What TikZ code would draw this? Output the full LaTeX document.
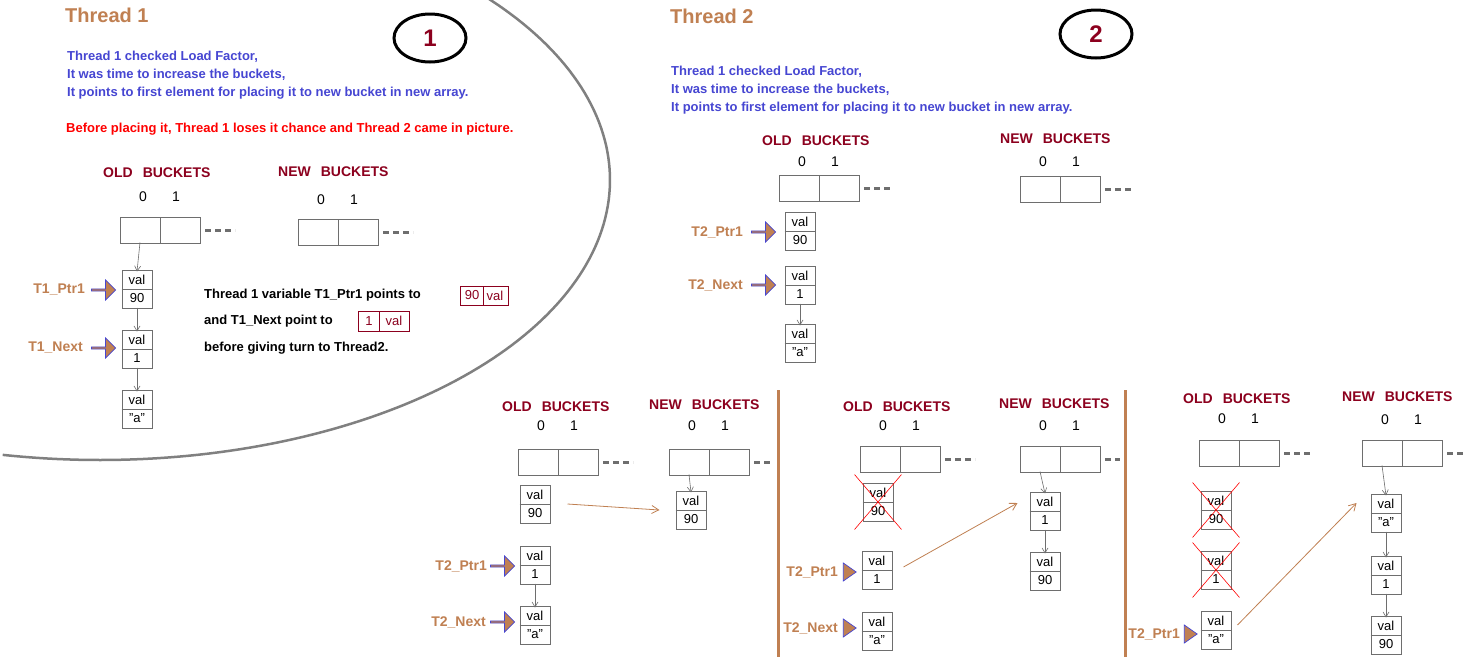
\documentclass[tikz,border=0pt]{standalone}
\usepackage{fontspec}
\setmainfont{Liberation Sans}
\usetikzlibrary{arrows.meta,shapes.arrows,shapes.geometric}
\definecolor{tan}{RGB}{192,128,82}
\definecolor{dred}{RGB}{140,0,30}
\definecolor{tblue}{RGB}{70,70,210}
\definecolor{bgray}{RGB}{110,110,110}
\tikzset{
 cell/.style={draw=bgray,line width=1pt,minimum width=30,minimum height=38,inner sep=0},
 bucket/.style={draw=bgray,line width=1pt,minimum width=40,minimum height=26,inner sep=0},
 link/.style={draw=bgray,line width=0.6pt,-{Straight Barb[length=5,width=6]}},
 move/.style={draw=tan,line width=0.8pt,-{Straight Barb[length=7,width=8]}},
 hdr/.style={text=dred,font=\fontsize{14}{16}\selectfont\bfseries,anchor=west,inner sep=0},
 idx/.style={font=\fontsize{14}{16}\selectfont,inner sep=0},
 lbl/.style={text=tan,font=\fontsize{14}{16}\selectfont\bfseries,anchor=east,inner sep=0},
 fat/.style={single arrow,draw=tblue,fill=tan,line width=0.7pt,minimum height=24,minimum width=20,single arrow head extend=3,inner sep=0},
 tri/.style={isosceles triangle,draw=tblue,fill=tan,line width=0.7pt,minimum height=10,minimum width=18,inner sep=0,isosceles triangle apex angle=70},
 blu/.style={text=tblue,font=\fontsize{13}{15}\selectfont\bfseries,anchor=west,inner sep=0},
 blk/.style={font=\fontsize{13}{15}\selectfont\bfseries,anchor=west,inner sep=0},
 ctext/.style={font=\fontsize{13}{15}\selectfont,inner sep=0},
 title/.style={text=tan,font=\fontsize{20}{22}\selectfont\bfseries,anchor=west,inner sep=0},
 dashbar/.style={draw=bgray,line width=3pt,dash pattern=on 6pt off 4pt},
 circ/.style={ellipse,draw,line width=3pt,minimum width=72,minimum height=48,text=dred,font=\fontsize{24}{26}\selectfont\bfseries},
 sep/.style={draw=tan,line width=3pt},
}
% \llcell{name}{x}{ytop}{text}
\newcommand\llcell[4]{%
 \node[cell] (#1) at (#2+15,#3+19) {};
 \draw[bgray,line width=1pt] (#1.west)--(#1.east);
 \node[ctext] at ([yshift=-9.5]#1.center) {#4};
 \node[ctext] at ([yshift=9.5]#1.center) {val};}
\newcommand\xcell[1]{%
 \draw[red,line width=0.6pt] ([shift={(-8,-8)}]#1.north west)--([shift={(8,8)}]#1.south east)
 ([shift={(8,-8)}]#1.north east)--([shift={(-8,8)}]#1.south west);}
% \bk{name}{x}{ytop}{header}{hx}{hy}{idxy}{dashend}
\newcommand\bk[8]{%
 \node[hdr] at (#5,#6) {#4\hspace{10pt}BUCKETS};
 \node[bucket] (#1a) at (#2+20,#3+13) {};
 \node[bucket] (#1b) at (#2+60,#3+13) {};
 \node[idx] at (#2+23,#7) {0};
 \node[idx] at (#2+56,#7) {1};
 \draw[dashbar] (#2+85,#3+13)--(#8,#3+13);}
\begin{document}
\begin{tikzpicture}[x=1pt,y=-1pt]
\useasboundingbox[fill=white] (0,0) rectangle (1466,657);
% ---------- panel 1
\draw[gray,line width=2.5pt] plot[domain=-45:101,samples=120] ({100+510*cos(\x)},{180+280*sin(\x)});
\node[title] at (65,15) {Thread 1};
\node[circ] (c1) at (430,38) {1};
\node[blu] at (67,57) {Thread 1 checked Load Factor,};
\node[blu] at (67,75) {It was time to increase the buckets,};
\node[blu] at (67,93) {It points to first element for placing it to new bucket in new array.};
\node[blk,text=red] at (66,129) {Before placing it, Thread 1 loses it chance and Thread 2 came in picture.};
\bk{ob1}{120}{217}{OLD}{103}{173}{197}{235}
\bk{nb1}{298}{219}{NEW}{278}{172}{200}{413}
\llcell{p1a}{122}{270}{90}
\llcell{p1b}{122}{330}{1}
\llcell{p1c}{122}{390}{"a"}
\draw[link] ([yshift=1]ob1a.south) -- ([yshift=-2]p1a.north);
\draw[link] ([yshift=1]p1a.south) -- ([yshift=-2]p1b.north);
\draw[link] ([yshift=1]p1b.south) -- ([yshift=-2]p1c.north);
\node[lbl] (l1) at (85,290) {T1\_Ptr1};
\node[fat] (f1) at (103,290) {};
\node[lbl] (l2) at (83,348) {T1\_Next};
\node[fat] (f2) at (103,348) {};
\node[blk] at (204,295) {Thread 1 variable T1\_Ptr1 points to};
\node[blk] at (204,321) {and T1\_Next point to};
\node[blk] at (204,348) {before giving turn to Thread2.};
\node[draw=dred,line width=1pt,minimum width=48,minimum height=19,inner sep=0] (rb1) at (484,295.5) {};
\draw[dred,line width=1pt] (483,286)--(483,305);
\node[ctext,text=dred] at (472,295.5) {90};
\node[ctext,text=dred] at (495,295.5) {val};
\node[draw=dred,line width=1pt,minimum width=51,minimum height=20,inner sep=0] (rb2) at (383.5,321) {};
\draw[dred,line width=1pt] (379,311)--(379,331);
\node[ctext,text=dred] at (369,321) {1};
\node[ctext,text=dred] at (394,321) {val};
% ---------- panel 2
\node[title] at (670,16) {Thread 2};
\node[circ] (c2) at (1096,34) {2};
\node[blu] at (671,72) {Thread 1 checked Load Factor,};
\node[blu] at (671,90) {It was time to increase the buckets,};
\node[blu] at (671,108) {It points to first element for placing it to new bucket in new array.};
\bk{ob2}{779}{175}{OLD}{762}{141}{162}{893}
\bk{nb2}{1020}{176}{NEW}{1000}{139}{162}{1134}
\llcell{p2a}{785}{212}{90}
\llcell{p2b}{785}{266}{1}
\llcell{p2c}{785}{324}{"a"}
\draw[link] ([yshift=1]p2b.south) -- ([yshift=-2]p2c.north);
\node[lbl] at (743,232) {T2\_Ptr1};
\node[fat] at (763,232) {};
\node[lbl] at (743,285) {T2\_Next};
\node[fat] at (763,285) {};
% ---------- separators
\draw[sep] (778,390)--(778,657);
\draw[sep] (1125,390)--(1125,657);
% ---------- panel 3
\bk{ob3}{518}{449}{OLD}{502}{407}{426}{633}
\bk{nb3}{669}{449}{NEW}{649}{405}{426}{770}
\llcell{p3a}{520}{485}{90}
\llcell{p3n}{676}{491}{90}
\draw[link] ([yshift=1]nb3a.south) -- ([yshift=-2]p3n.north);
\draw[move] ([xshift=17]p3a.east) -- ([xshift=-16]p3n.west);
\llcell{p3b}{520}{546}{1}
\llcell{p3c}{520}{606}{"a"}
\draw[link] ([yshift=1]p3b.south) -- ([yshift=-2]p3c.north);
\node[lbl] at (487,566) {T2\_Ptr1};
\node[fat] at (502,566) {};
\node[lbl] at (486,622) {T2\_Next};
\node[fat] at (502,622) {};
% ---------- panel 4
\bk{ob4}{860}{446}{OLD}{843}{407}{426}{975}
\bk{nb4}{1020}{446}{NEW}{999}{404}{426}{1120}
\llcell{p4a}{863}{483}{90}
\xcell{p4a}
\llcell{p4b}{862}{551}{1}
\llcell{p4c}{862}{612}{"a"}
\node[lbl] at (838,572) {T2\_Ptr1};
\node[tri] at (848,572) {};
\node[lbl] at (838,628) {T2\_Next};
\node[tri] at (848,628) {};
\llcell{p4n1}{1030}{492}{1}
\llcell{p4n2}{1030}{552}{90}
\draw[link] ([yshift=1]nb4a.south) -- ([yshift=-2]p4n1.north);
\draw[link] ([yshift=1]p4n1.south) -- ([yshift=-2]p4n2.north);
\draw[move] ([shift={(11,-3)}]p4b.east) -- ([shift={(-12,-8)}]p4n1.west);
% ---------- panel 5
\bk{ob5}{1199}{440}{OLD}{1183}{399}{419}{1313}
\bk{nb5}{1362}{440}{NEW}{1342}{397}{420}{1466}
\llcell{p5a}{1201}{491}{90}
\xcell{p5a}
\llcell{p5b}{1201}{551}{1}
\xcell{p5b}
\llcell{p5c}{1201}{611}{"a"}
\node[lbl] at (1180,634) {T2\_Ptr1};
\node[tri] at (1189,634) {};
\llcell{p5n1}{1371}{494}{"a"}
\llcell{p5n2}{1371}{556}{1}
\llcell{p5n3}{1371}{616}{90}
\draw[link] ([yshift=1]nb5a.south) -- ([yshift=-2]p5n1.north);
\draw[link] ([yshift=1]p5n1.south) -- ([yshift=-2]p5n2.north);
\draw[link] ([yshift=1]p5n2.south) -- ([yshift=-2]p5n3.north);
\draw[move] ([shift={(6,-5)}]p5c.east) -- ([shift={(-14,-10)}]p5n1.west);
\end{tikzpicture}
\end{document}
